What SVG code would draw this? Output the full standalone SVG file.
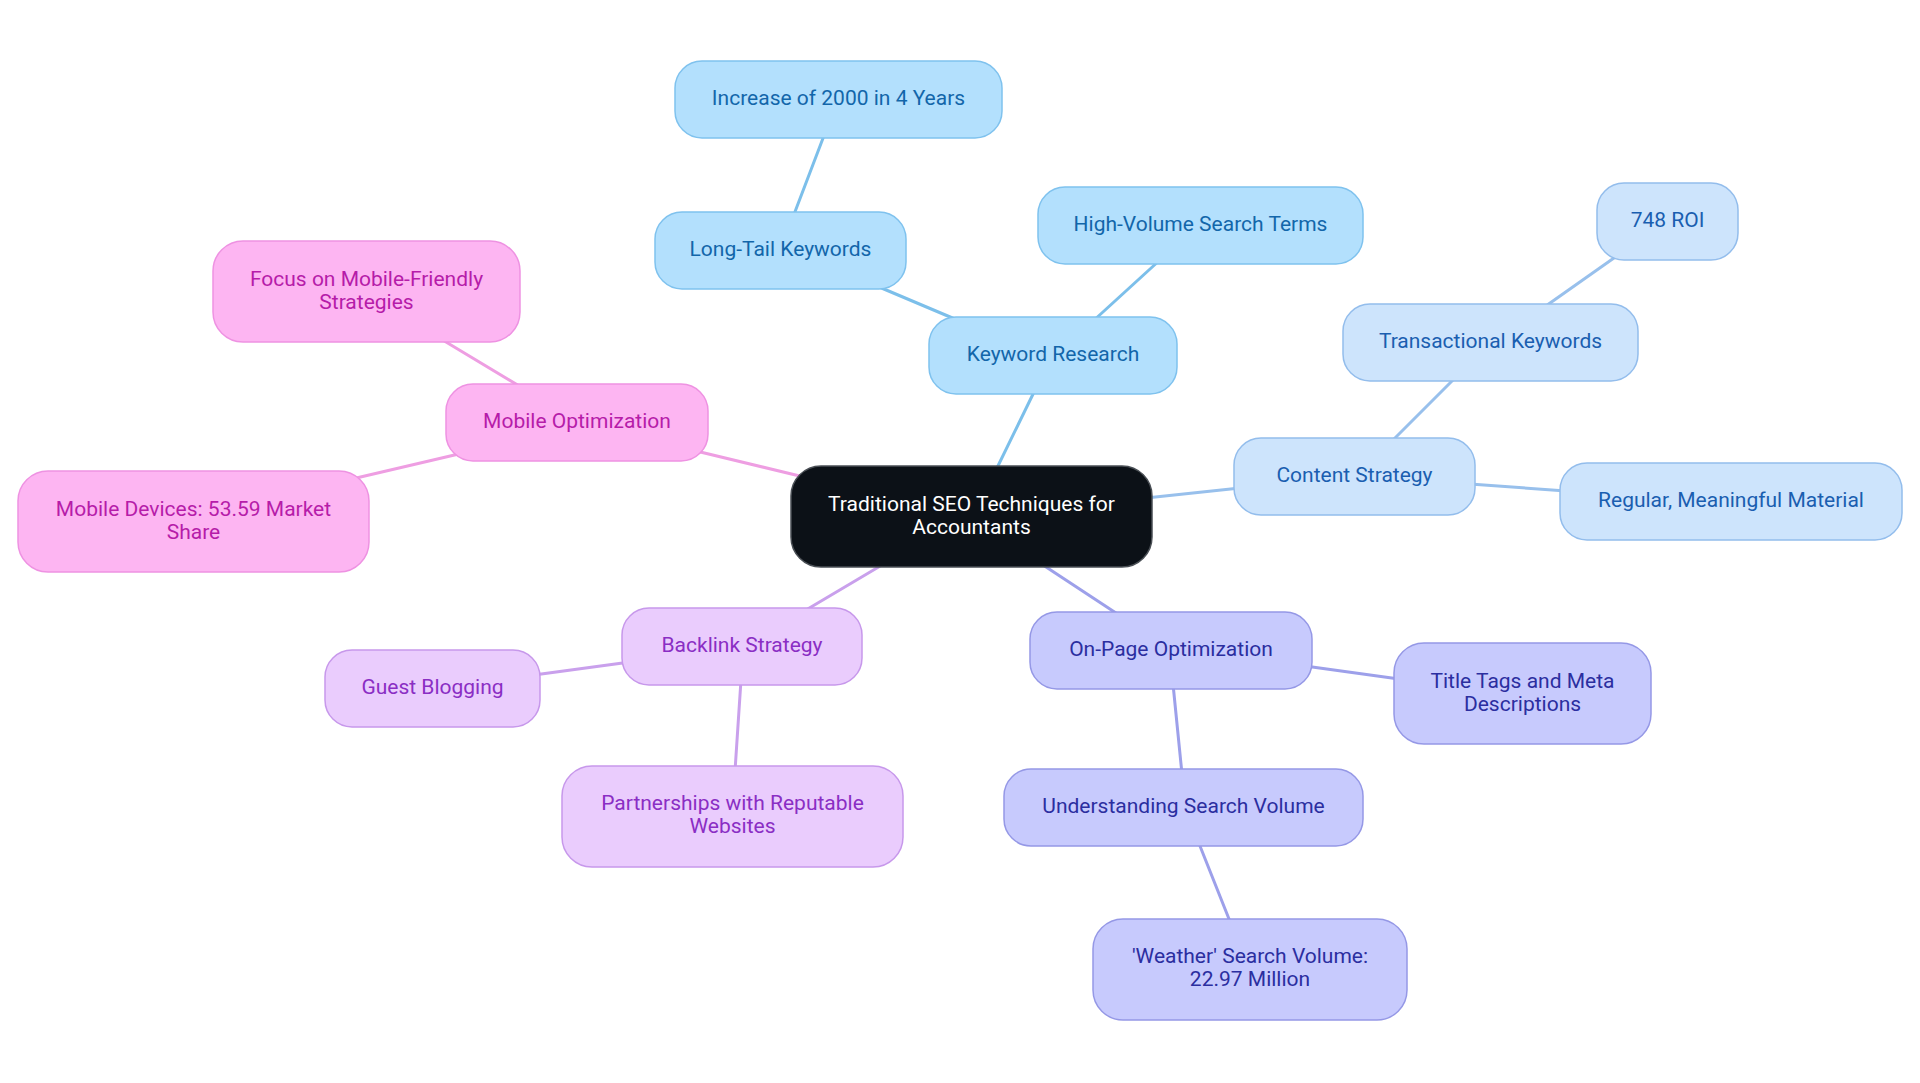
<svg xmlns="http://www.w3.org/2000/svg" width="1920" height="1083" viewBox="0 0 1920 1083">
<style>
text{font-family:Roboto,"Liberation Sans",sans-serif;font-size:21px;text-anchor:middle;dominant-baseline:central;transform:translateY(-1.2px)}
.e{stroke-width:3;fill:none;stroke-linecap:round}
.n rect{stroke-width:1.5}
.c rect{fill:#0c1117;stroke:#4a4f55}
.c text{fill:#ffffff}
.kw rect{fill:#b3e0fd;stroke:#7fc2ee}
.kw text{fill:#1266aa}
.cs rect{fill:#cde4fc;stroke:#93bdec}
.cs text{fill:#1a5eb0}
.op rect{fill:#c7cafd;stroke:#9598e6}
.op text{fill:#2b2ea0}
.bl rect{fill:#eaccfd;stroke:#c798eb}
.bl text{fill:#8a2ec4}
.mo rect{fill:#fdb5f2;stroke:#ee92e2}
.mo text{fill:#b61ca9}
</style>
<rect width="1920" height="1083" fill="#ffffff"/>
<g id="connectors">
<line class="e" stroke="#7cbfea" x1="995" y1="472" x2="1036" y2="388"/>
<line class="e" stroke="#7cbfea" x1="962" y1="322" x2="872" y2="284"/>
<line class="e" stroke="#7cbfea" x1="793" y1="217" x2="825" y2="133"/>
<line class="e" stroke="#7cbfea" x1="1092" y1="322" x2="1161" y2="259"/>
<line class="e" stroke="#98c0ec" x1="1146" y1="498" x2="1240" y2="488"/>
<line class="e" stroke="#98c0ec" x1="1391" y1="442" x2="1455" y2="378"/>
<line class="e" stroke="#98c0ec" x1="1543" y1="308" x2="1621" y2="253"/>
<line class="e" stroke="#98c0ec" x1="1470" y1="484" x2="1566" y2="491"/>
<line class="e" stroke="#9da0ea" x1="1040" y1="563" x2="1119" y2="615"/>
<line class="e" stroke="#9da0ea" x1="1305" y1="666" x2="1399" y2="679"/>
<line class="e" stroke="#9da0ea" x1="1173" y1="684" x2="1182" y2="774"/>
<line class="e" stroke="#9da0ea" x1="1198" y1="841" x2="1231" y2="924"/>
<line class="e" stroke="#c9a0ec" x1="887" y1="562" x2="806" y2="610"/>
<line class="e" stroke="#c9a0ec" x1="630" y1="662" x2="534" y2="675"/>
<line class="e" stroke="#c9a0ec" x1="741" y1="680" x2="735" y2="771"/>
<line class="e" stroke="#ee9ee2" x1="808" y1="478" x2="692" y2="450"/>
<line class="e" stroke="#ee9ee2" x1="521" y1="387" x2="441" y2="339"/>
<line class="e" stroke="#ee9ee2" x1="463" y1="453" x2="352" y2="479"/>
</g>
<g id="center" class="n c"><rect x="791" y="466" width="361" height="101" rx="30"/><text x="971.5" y="505">Traditional SEO Techniques for</text><text x="971.5" y="528">Accountants</text></g>
<g id="keyword-research" class="n kw"><rect x="929" y="317" width="248" height="77" rx="27"/><text x="1053" y="355.5">Keyword Research</text></g>
<g id="long-tail" class="n kw"><rect x="655" y="212" width="251" height="77" rx="27"/><text x="780.5" y="250">Long-Tail Keywords</text></g>
<g id="increase" class="n kw"><rect x="675" y="61" width="327" height="77" rx="27"/><text x="838.5" y="99">Increase of 2000 in 4 Years</text></g>
<g id="high-volume" class="n kw"><rect x="1038" y="187" width="325" height="77" rx="27"/><text x="1200.5" y="225">High-Volume Search Terms</text></g>
<g id="content-strategy" class="n cs"><rect x="1234" y="438" width="241" height="77" rx="27"/><text x="1354.5" y="476">Content Strategy</text></g>
<g id="transactional" class="n cs"><rect x="1343" y="304" width="295" height="77" rx="27"/><text x="1490.5" y="342.5">Transactional Keywords</text></g>
<g id="roi" class="n cs"><rect x="1597" y="183" width="141" height="77" rx="27"/><text x="1667.5" y="221">748 ROI</text></g>
<g id="regular" class="n cs"><rect x="1560" y="463" width="342" height="77" rx="27"/><text x="1731" y="501">Regular, Meaningful Material</text></g>
<g id="on-page" class="n op"><rect x="1030" y="612" width="282" height="77" rx="27"/><text x="1171" y="650">On-Page Optimization</text></g>
<g id="title-tags" class="n op"><rect x="1394" y="643" width="257" height="101" rx="30"/><text x="1522.5" y="682">Title Tags and Meta</text><text x="1522.5" y="705">Descriptions</text></g>
<g id="understanding" class="n op"><rect x="1004" y="769" width="359" height="77" rx="27"/><text x="1183.5" y="807">Understanding Search Volume</text></g>
<g id="weather" class="n op"><rect x="1093" y="919" width="314" height="101" rx="30"/><text x="1250" y="957.5">'Weather' Search Volume:</text><text x="1250" y="980.5">22.97 Million</text></g>
<g id="backlink" class="n bl"><rect x="622" y="608" width="240" height="77" rx="27"/><text x="742" y="646">Backlink Strategy</text></g>
<g id="guest" class="n bl"><rect x="325" y="650" width="215" height="77" rx="27"/><text x="432.5" y="688">Guest Blogging</text></g>
<g id="partnerships" class="n bl"><rect x="562" y="766" width="341" height="101" rx="30"/><text x="732.5" y="804.5">Partnerships with Reputable</text><text x="732.5" y="827.5">Websites</text></g>
<g id="mobile-opt" class="n mo"><rect x="446" y="384" width="262" height="77" rx="27"/><text x="577" y="422">Mobile Optimization</text></g>
<g id="focus" class="n mo"><rect x="213" y="241" width="307" height="101" rx="30"/><text x="366.5" y="280">Focus on Mobile-Friendly</text><text x="366.5" y="303">Strategies</text></g>
<g id="mobile-devices" class="n mo"><rect x="18" y="471" width="351" height="101" rx="30"/><text x="193.5" y="510">Mobile Devices: 53.59 Market</text><text x="193.5" y="533">Share</text></g>
</svg>
